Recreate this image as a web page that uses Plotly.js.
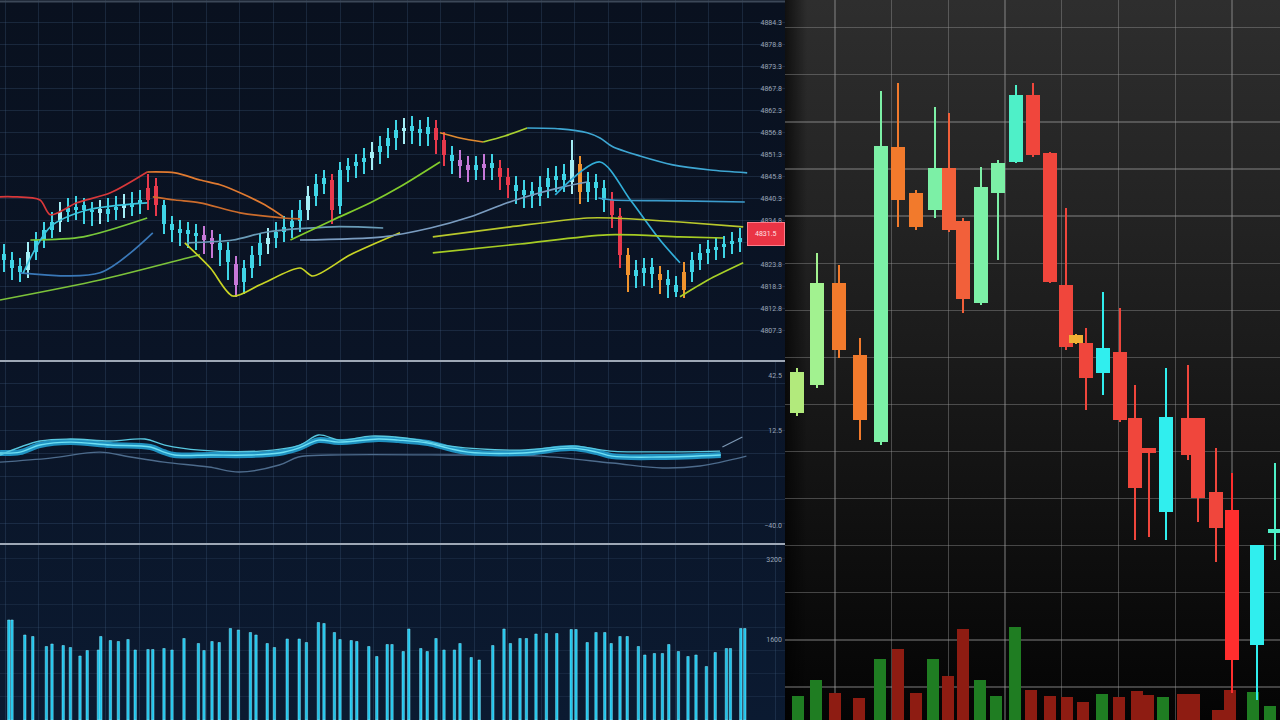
<!DOCTYPE html>
<html><head><meta charset="utf-8">
<script src="https://cdn.plot.ly/plotly-3.0.1.min.js"></script>
<style>
html,body{margin:0;padding:0;width:1280px;height:720px;overflow:hidden;background:#000}
#wrap{position:relative;width:1280px;height:720px;
 background:
  linear-gradient(to right,rgba(0,0,0,0.65),rgba(0,0,0,0)) 785px 0/22px 720px no-repeat,
  linear-gradient(to bottom,#09111f 0%,#0a1426 50%,#0b1a31 100%) 0 0/785px 720px no-repeat,
  linear-gradient(to bottom,#2e2e2e 0%,#232323 30%,#151515 62%,#040404 100%) 785px 0/495px 720px no-repeat;}
#chart{width:1280px;height:720px}
</style></head>
<body><div id="wrap"><div id="chart"></div></div>
<script>
// ---------- LEFT PANEL: price candles (index = session) ----------
const lOpen = [4826.5,4825.0,4823.5,4822.5,4827.0,4830.0,4832.5,4834.5,4837.0,4837.5,
 4838.8,4837.5,4837.8,4836.5,4837.5,4838.0,4838.3,4839.0,4840.0,4843.5,
 4838.8,4834.0,4832.8,4832.5,4831.8,4831.3,4830.5,4829.3,4827.5,4824.0,
 4819.5,4823.0,4826.3,4829.0,4830.5,4832.0,4833.3,4834.8,4837.5,4841.0,
 4844.0,4845.0,4838.5,4847.5,4848.5,4849.5,4850.5,4852.0,4853.5,4855.5,
 4857.3,4858.5,4857.8,4856.5,4858.0,4855.0,4851.3,4850.0,4848.8,4847.5,
 4848.0,4849.3,4848.0,4845.8,4843.8,4842.5,4842.3,4841.0,4843.3,4845.0,
 4846.5,4844.5,4849.0,4842.0,4844.5,4843.0,4840.0,4836.0,4826.3,4821.0,
 4821.8,4823.3,4821.5,4820.3,4818.8,4817.5,4822.0,4825.0,4826.8,4827.5,
 4828.3,4829.0,4829.5];
const lClose = [4825.0,4823.0,4822.0,4827.0,4830.0,4832.5,4834.5,4837.0,4838.0,4838.3,
 4837.5,4837.0,4836.8,4837.8,4838.3,4838.8,4839.3,4840.0,4843.0,4838.8,
 4834.0,4832.5,4831.8,4831.5,4831.0,4830.0,4829.0,4827.5,4824.5,4818.8,
 4823.0,4826.3,4829.3,4830.5,4832.0,4833.3,4834.8,4837.5,4841.0,4844.0,
 4845.5,4837.5,4847.5,4848.5,4849.5,4850.5,4852.0,4853.5,4855.5,4857.5,
 4858.0,4857.3,4856.8,4858.3,4855.0,4851.3,4849.8,4848.5,4847.5,4848.8,
 4849.0,4848.0,4845.8,4843.8,4842.3,4841.3,4841.0,4843.3,4845.5,4846.0,
 4845.0,4850.0,4842.0,4844.5,4843.0,4840.0,4836.3,4826.3,4821.3,4822.5,
 4823.0,4821.5,4820.0,4818.8,4817.0,4822.0,4825.0,4826.8,4827.8,4828.3,
 4829.0,4829.8,4830.5];
const lHigh = [4829.0,4827.0,4825.5,4829.5,4832.0,4834.5,4837.0,4839.5,4840.5,4841.0,
 4840.5,4839.5,4840.0,4840.5,4841.0,4841.5,4842.0,4842.5,4846.5,4845.5,
 4840.0,4836.0,4835.0,4834.5,4834.0,4833.5,4832.5,4831.5,4829.5,4826.0,
 4825.0,4828.5,4831.5,4833.0,4834.5,4836.0,4837.5,4840.0,4843.5,4846.5,
 4847.5,4846.5,4849.5,4850.5,4851.5,4853.0,4854.5,4856.0,4858.0,4860.0,
 4860.5,4861.0,4860.0,4860.8,4860.0,4857.0,4853.5,4852.5,4851.0,4851.0,
 4851.5,4851.5,4850.0,4848.0,4846.0,4845.0,4844.5,4846.0,4848.0,4848.5,
 4849.0,4855.0,4851.0,4847.0,4846.5,4845.0,4842.0,4838.0,4828.0,4825.0,
 4825.5,4825.5,4823.5,4822.5,4821.0,4824.5,4827.0,4829.0,4830.0,4830.5,
 4831.0,4832.0,4833.0];
const lLow = [4822.0,4820.0,4819.5,4820.5,4825.0,4828.0,4830.5,4832.0,4834.5,4835.0,
 4834.0,4833.5,4834.0,4834.5,4835.0,4835.5,4836.0,4836.5,4837.5,4836.0,
 4831.5,4829.5,4828.5,4828.0,4827.5,4826.5,4825.5,4823.5,4820.0,4815.8,
 4816.5,4820.5,4823.5,4826.5,4828.0,4829.5,4830.5,4832.0,4835.0,4838.5,
 4841.5,4834.0,4836.5,4844.5,4845.5,4846.5,4847.5,4849.0,4850.5,4852.5,
 4854.0,4854.0,4853.5,4853.5,4851.5,4848.5,4846.5,4845.5,4844.5,4845.0,
 4845.0,4845.0,4842.5,4840.5,4839.0,4838.0,4838.0,4838.5,4840.5,4842.0,
 4842.0,4841.5,4839.0,4839.5,4840.0,4837.0,4833.0,4823.0,4817.0,4818.0,
 4818.5,4818.0,4816.5,4815.5,4815.8,4815.5,4819.5,4822.5,4824.0,4825.0,
 4825.5,4826.5,4827.0];
const lTone = ['c','c','c','l','c','c','c','l','c','c','c','c','l','c','c','l','c','c',
 'r','r',
 'c','c','c','c','c','p','p','c','c',
 'p',
 'c','c','c','l','c','c','c','c','l','c','c',
 'r',
 'c','c','c','c','l','c','c','c','l','c','c','c',
 'r','r','c','p','p','c','p','c','r','r','c','c','c','c','c','c','c',
 'l','o','c','c','c','r','r','o','c','c','c','o','c','c','o','c','c','c','c','c','c','c'];
const lPalette = {c:'#3fd4e6', l:'#a4eef6', r:'#e8394c', p:'#c678d8', o:'#f0932e'};

// price-axis tick values / labels
const priceTicks = [4884.3,4878.8,4873.3,4867.8,4862.3,4856.8,4851.3,4845.8,4840.3,4834.8,4829.3,4823.8,4818.3,4812.8,4807.3];
const lastPrice = 4831.5;

// overlay lines (moving averages / bands)
const lnRedX = [-0.5,1.1,4.5,5.8,9.1,13.3,17.9], lnRedY = [4840.8,4840.8,4840.0,4836.3,4839.3,4841.8,4847.0];
const lnOrgX = [17.9,21.4,24.5,27.0,29.5,32.6,34.9], lnOrgY = [4847.0,4846.8,4845.0,4843.8,4841.8,4838.8,4835.8];
const lnOrg2X = [18.6,21.4,24.5,29.5,34.9,37.0], lnOrg2Y = [4840.8,4840.0,4839.3,4836.8,4835.5,4835.3];
const lnOrg3X = [54.5,57.0,59.9], lnOrg3Y = [4856.8,4855.5,4854.5];
const lnGrnTopX = [59.9,62.6,65.4], lnGrnTopY = [4854.5,4856.0,4858.0];
const lnUpperX = [65.4,69.5,72.9,74.5,76.1,79.5,83.6,88.3,92.9], lnUpperY = [4858.0,4857.8,4856.8,4855.5,4853.3,4851.0,4848.8,4847.5,4846.8];
const lnFlatX = [74.3,76.1,84.5,92.6], lnFlatY = [4840.5,4840.0,4839.8,4839.5];
const lnRiseX = [37.0,47.4,53.3,58.3,62.9,67.0,69.9,72.9], lnRiseY = [4830.0,4830.8,4833.0,4835.8,4839.3,4841.8,4843.3,4844.5];
const lnZigX = [68.9,74.5,78.3,82.0,84.5], lnZigY = [4841.3,4849.5,4840.0,4830.0,4824.3];
const lnYg1X = [53.6,63.3,72.9,76.1,84.5,92.4], lnYg1Y = [4830.8,4833.3,4835.5,4835.5,4834.5,4833.3];
const lnYg2X = [53.6,64.5,75.4,84.5,89.9], lnYg2Y = [4826.8,4829.0,4831.3,4830.8,4830.5];
const lnGrnX = [35.8,41.1,45.8,49.5,54.5], lnGrnY = [4830.0,4835.0,4839.3,4843.3,4849.5];
const lnYelX = [22.6,25.8,28.6,32.0,37.0,38.6,43.3,49.5], lnYelY = [4829.3,4823.0,4816.0,4818.8,4823.0,4821.0,4826.3,4831.8];
const lnLowGX = [-0.5,12.0,22.9,24.5], lnLowGY = [4815.0,4820.0,4825.5,4826.3];
const lnUpGX = [3.3,9.9,17.9], lnUpGY = [4830.0,4830.8,4835.5];
const lnMaX = [2.4,5.8,10.4,17.9], lnMaY = [4821.8,4833.3,4837.5,4839.3];
const lnMidX = [22.9,28.6,32.9,41.1,47.4], lnMidY = [4829.3,4830.0,4832.0,4833.3,4833.0];
const lnBlueX = [2.0,12.0,18.6], lnBlueY = [4821.8,4821.8,4831.8];
const lnEndX = [84.5,88.0,92.4], lnEndY = [4815.8,4820.0,4824.3];

// ---------- LEFT PANEL: oscillator ----------
const oscMainX = [-0.5,2.0,4.5,8.3,13.3,18.3,20.0,21.3,25.8,30.6,34.4,36.8,39.3,41.8,46.8,49.3,53.0,55.5,58.0,64.8,71.0,74.1,76.0,82.0,89.6];
const oscMainY = [0.0,0.5,4.4,6.0,4.4,3.3,0.5,-1.1,-1.1,-1.1,0.0,2.7,7.1,6.0,7.7,7.1,5.5,2.7,0.5,0.0,2.7,0.5,-1.7,-2.2,-1.1];
const oscSigX = [-0.5,4.5,8.3,13.3,17.6,20.1,24.5,32.0,37.0,39.3,42.0,45.8,48.9,52.0,55.8,64.5,71.4,75.8,89.5];
const oscSigY = [-1.1,6.6,7.7,6.6,7.7,4.4,1.6,1.1,4.4,9.9,7.1,9.3,8.8,7.1,3.8,1.6,3.8,1.1,1.1];
const oscSlowX = [-0.5,5.8,12.0,15.8,20.0,25.6,29.4,34.4,36.8,40.8,55.8,67.0,76.0,82.3,87.0,92.8];
const oscSlowY = [-5.0,-2.8,0.5,-2.2,-5.0,-7.7,-10.4,-6.6,-2.2,-1.1,-1.1,-1.7,-5.5,-8.2,-7.1,-1.7];
const oscTailX = [89.8,92.3], oscTailY = [3.3,8.8];
const oscTicks = [42.5,12.5,-40.0];

// ---------- LEFT PANEL: volume ----------
const lVolX = [0.6,1.0,2.6,3.6,5.3,6.0,7.4,8.3,9.5,10.4,11.8,12.1,13.3,14.3,15.5,16.4,18.0,18.6,20.0,21.0,
 22.5,24.3,25.0,26.0,26.9,28.3,29.3,30.8,31.5,32.9,33.8,35.4,36.9,37.8,39.3,40.0,41.3,42.0,43.4,44.1,
 45.6,46.6,47.9,48.5,49.9,50.6,52.1,52.9,54.0,55.0,56.3,57.0,58.4,59.4,61.1,62.5,63.3,64.5,65.3,66.5,
 67.8,69.1,70.9,71.5,72.9,74.0,75.1,75.9,77.0,77.9,79.3,80.1,81.3,82.3,83.1,84.3,85.5,86.5,87.8,88.9,
 90.3,90.8,92.1,92.6];
const lVol = [2000,2000,1700,1670,1470,1520,1490,1450,1280,1390,1400,1670,1590,1570,1610,1400,1410,1410,1430,1400,
 1630,1530,1390,1570,1550,1830,1800,1750,1700,1530,1450,1620,1620,1550,1950,1930,1750,1610,1590,1570,
 1470,1270,1510,1510,1370,1820,1430,1370,1630,1400,1400,1530,1250,1200,1490,1820,1530,1630,1630,1720,
 1730,1730,1810,1810,1550,1750,1750,1530,1670,1670,1470,1300,1330,1330,1510,1370,1270,1300,1070,1350,
 1430,1430,1830,1830];
const volTicks = [3200,1600];

// ---------- RIGHT PANEL: candles ----------
const rX = [1.2,3.2,5.4,7.5,9.6,11.3,13.1,15.0,16.4,17.8,19.6,21.3,23.1,24.8,26.5,28.1,29.1,30.1,31.8,33.5,35.0,36.4,38.1,40.3,41.3,43.1,44.7,47.2,49.0];
const rOpen = [90.7,93.5,103.7,96.5,87.8,117.3,112.7,111.0,115.2,109.9,101.7,112.7,115.8,122.5,116.7,103.5,98.5,97.7,94.7,96.8,90.2,87.2,80.8,90.2,90.2,82.8,81.0,67.5,78.7];
const rClose = [94.8,103.7,97.0,90.0,117.4,112.0,109.3,115.2,109.0,102.1,113.3,115.7,122.5,116.5,103.8,97.3,97.7,94.2,97.2,90.0,83.2,86.7,90.3,86.5,82.2,79.2,66.0,77.5,79.0];
const rHigh = [95.2,106.7,105.5,98.2,122.9,123.7,113.0,121.3,120.7,110.2,115.3,116.0,123.5,123.7,116.8,111.2,98.6,99.2,102.8,101.2,93.5,87.2,95.2,95.5,90.2,87.2,84.7,77.5,85.7];
const rLow = [90.4,93.2,96.2,88.0,87.5,109.3,109.0,110.2,108.8,100.7,101.5,106.0,115.7,116.3,103.7,97.0,97.6,91.0,92.5,89.8,78.0,78.3,78.0,86.0,79.8,75.8,62.7,62.0,76.0];
const rTone = ['yg','lg','or','or','mg','or','or','mg','rr','rr','mg','mg','cm','rd','rd','rd','yo','rd','cy','rd','rd','rd','cy','rd','rd','rd','rd2','cy','cm'];
const rPalette = {yg:'#b2ea7c', lg:'#a2f290', mg:'#7cf0a6', cm:'#4ef0c8', cy:'#30eeee', or:'#f27a2c', rr:'#f2603a', rd:'#f0463c', rd2:'#ff2e2e', yo:'#f2b034'};

// ---------- RIGHT PANEL: volume ----------
const rvX = [1.3,3.1,5.0,7.4,9.5,11.3,13.1,14.8,16.3,17.8,19.5,21.1,23.0,24.6,26.5,28.2,29.8,31.7,33.4,35.2,36.3,37.8,39.8,40.9,43.3,44.5,46.8,48.5];
const rVol = [67,111,75,61,169,197,75,169,122,253,111,67,258,83,67,64,50,72,64,81,69,64,72,72,28,83,78,39];
const rvTone = ['g','g','r','r','g','r','r','g','r','r','g','g','g','r','r','r','r','g','r','r','r','g','r','r','r','r','g','g'];
const rvPalette = {g:'#1f7d22', r:'#8e1c12'};

// ================= build traces =================
const lIdx = lClose.map((_, i) => i);
const lColors = lTone.map(k => lPalette[k]);
const traces = [];

// left volume
traces.push({type:'bar', x:lVolX, y:lVol, xaxis:'x', yaxis:'y3', width:0.3,
  marker:{color:'#1cc2ea', line:{color:'#86eaff', width:0.5}}, hoverinfo:'skip'});

// left oscillator
traces.push({type:'scatter', mode:'lines', x:oscSlowX, y:oscSlowY, xaxis:'x', yaxis:'y2',
  line:{color:'#4d6b8c', width:1.4, shape:'spline'}, hoverinfo:'skip'});
traces.push({type:'scatter', mode:'lines', x:oscMainX, y:oscMainY, xaxis:'x', yaxis:'y2',
  line:{color:'rgba(34,160,210,0.9)', width:6, shape:'spline'}, hoverinfo:'skip'});
traces.push({type:'scatter', mode:'lines', x:oscMainX, y:oscMainY, xaxis:'x', yaxis:'y2',
  line:{color:'#6ee0f4', width:1.4, shape:'spline'}, hoverinfo:'skip'});
traces.push({type:'scatter', mode:'lines', x:oscSigX, y:oscSigY, xaxis:'x', yaxis:'y2',
  line:{color:'#58c8e0', width:1.3, shape:'spline'}, hoverinfo:'skip'});
traces.push({type:'scatter', mode:'lines', x:oscTailX, y:oscTailY, xaxis:'x', yaxis:'y2',
  line:{color:'#7c98b4', width:1.2}, hoverinfo:'skip'});

// left overlay lines
const lineSpecs = [
  [lnLowGX, lnLowGY, '#7cc23a'], [lnBlueX, lnBlueY, '#3a78b8'], [lnUpGX, lnUpGY, '#78c83a'],
  [lnMaX, lnMaY, '#3cc4de'], [lnRedX, lnRedY, '#d8383a'], [lnOrgX, lnOrgY, '#e07a30'],
  [lnOrg2X, lnOrg2Y, '#cc6c2c'], [lnMidX, lnMidY, '#6a9cb8'], [lnYelX, lnYelY, '#c8d424'],
  [lnGrnX, lnGrnY, '#82cc2c'], [lnRiseX, lnRiseY, '#7a9cc0'], [lnOrg3X, lnOrg3Y, '#e08a30'],
  [lnGrnTopX, lnGrnTopY, '#a8d030'], [lnUpperX, lnUpperY, '#3ea6d2'], [lnFlatX, lnFlatY, '#3c9ccc'],
  [lnZigX, lnZigY, '#32aed8'], [lnYg1X, lnYg1Y, '#b8c82c'], [lnYg2X, lnYg2Y, '#a6cc24'],
  [lnEndX, lnEndY, '#a8d028']
];
lineSpecs.forEach(s => traces.push({type:'scatter', mode:'lines', x:s[0], y:s[1], xaxis:'x', yaxis:'y',
  line:{color:s[2], width:1.7, shape:'spline', smoothing:0.8}, hoverinfo:'skip'}));

// left candles: wicks and bodies
traces.push({type:'bar', x:lIdx, base:lLow, y:lHigh.map((h,i)=>h-lLow[i]), xaxis:'x', yaxis:'y',
  width:0.16, marker:{color:lColors, line:{width:0}}, hoverinfo:'skip'});
traces.push({type:'bar', x:lIdx, base:lOpen.map((o,i)=>Math.min(o,lClose[i])),
  y:lOpen.map((o,i)=>Math.max(Math.abs(lClose[i]-o),0.35)), xaxis:'x', yaxis:'y',
  width:0.42, marker:{color:lColors, line:{width:0}}, hoverinfo:'skip'});

// right volume (base axis) then candles (overlaying axis)
traces.push({type:'bar', x:rvX, y:rVol, xaxis:'x2', yaxis:'y4', width:1.2,
  marker:{color:rvTone.map(k=>rvPalette[k]), line:{width:0}}, hoverinfo:'skip'});
const rColors = rTone.map(k => rPalette[k]);
traces.push({type:'bar', x:rX, base:rLow, y:rHigh.map((h,i)=>h-rLow[i]), xaxis:'x2', yaxis:'y5',
  width:0.22, marker:{color:rColors, line:{width:0}}, hoverinfo:'skip'});
traces.push({type:'bar', x:rX, base:rOpen.map((o,i)=>Math.min(o,rClose[i])),
  y:rOpen.map((o,i)=>Math.max(Math.abs(rClose[i]-o),0.4)), xaxis:'x2', yaxis:'y5',
  width:1.35, marker:{color:rColors, line:{width:0}}, hoverinfo:'skip'});

// ================= layout =================
const LEFT_END = 785/1280;
const gridL = 'rgba(70,96,132,0.28)';
const labelFont = {family:'Roboto, DejaVu Sans, sans-serif', size:7, color:'#9aa6b8'};
const layout = {
  width:1280, height:720, margin:{l:0,r:0,t:0,b:0},
  paper_bgcolor:'rgba(0,0,0,0)', plot_bgcolor:'rgba(0,0,0,0)',
  showlegend:false, hovermode:false, barmode:'overlay', bargap:0,
  xaxis:{domain:[0,LEFT_END], range:[-0.5,97.625], tick0:0.125, dtick:4.1875,
    showgrid:true, gridcolor:gridL, gridwidth:1, zeroline:false, showticklabels:false, showline:false, fixedrange:true},
  yaxis:{domain:[0.5,1], range:[4800,4890], anchor:'x', side:'right', tickmode:'array', tickvals:priceTicks,
    tickformat:'.1f', ticklabelposition:'inside', tickfont:labelFont, showgrid:true, gridcolor:gridL,
    zeroline:false, showline:false, ticks:'', fixedrange:true},
  yaxis2:{domain:[0.2444,0.4972], range:[-50,50], anchor:'x', side:'right', tickmode:'array', tickvals:oscTicks,
    tickformat:'.1f', ticklabelposition:'inside', tickfont:labelFont, showgrid:false, zeroline:false, ticks:'',
    minor:{tickmode:'linear', tick0:-0.2, dtick:12.8, showgrid:true, gridcolor:gridL, ticks:''}, fixedrange:true},
  yaxis3:{domain:[0,0.2431], range:[0,3500], anchor:'x', side:'right', tickmode:'array', tickvals:volTicks,
    ticklabelposition:'inside', tickfont:labelFont, showgrid:false, zeroline:false, ticks:'',
    minor:{tickmode:'linear', tick0:0, dtick:460, showgrid:true, gridcolor:'rgba(70,96,132,0.2)', ticks:''}, fixedrange:true},
  xaxis2:{domain:[LEFT_END,1], range:[0,49.5], anchor:'y4', tick0:5.0, dtick:5.67, showgrid:true,
    gridcolor:'rgba(150,150,150,0.42)', gridwidth:1.3, zeroline:false, showticklabels:false, fixedrange:true},
  yaxis4:{domain:[0,1], range:[0,2000], anchor:'x2', tick0:91.7, dtick:130.8, showgrid:true,
    gridcolor:'rgba(150,150,150,0.42)', gridwidth:1.3, zeroline:false, showticklabels:false, fixedrange:true},
  yaxis5:{overlaying:'y4', range:[60,132], anchor:'x2', showgrid:false, zeroline:false, showticklabels:false, fixedrange:true},
  shapes:[
    {type:'line', xref:'paper', yref:'paper', x0:0, x1:LEFT_END, y0:0.4986, y1:0.4986, line:{color:'#9ea8b6', width:2}},
    {type:'line', xref:'paper', yref:'paper', x0:0, x1:LEFT_END, y0:0.2444, y1:0.2444, line:{color:'#9ea8b6', width:2}},
    {type:'line', xref:'paper', yref:'paper', x0:0, x1:LEFT_END, y0:0.998, y1:0.998, line:{color:'#3c4858', width:2}}
  ],
  annotations:[
    {xref:'paper', yref:'y', x:LEFT_END, y:lastPrice, xanchor:'right', yanchor:'middle', showarrow:false,
     text:lastPrice.toFixed(1), bgcolor:'#ea3445', bordercolor:'#ff7c8a', borderwidth:1, borderpad:7,
     font:{family:'Roboto, DejaVu Sans, sans-serif', size:7, color:'#ffe0e4'}}
  ]
};
Plotly.newPlot('chart', traces, layout, {staticPlot:true, displayModeBar:false});
</script>
</body></html>
